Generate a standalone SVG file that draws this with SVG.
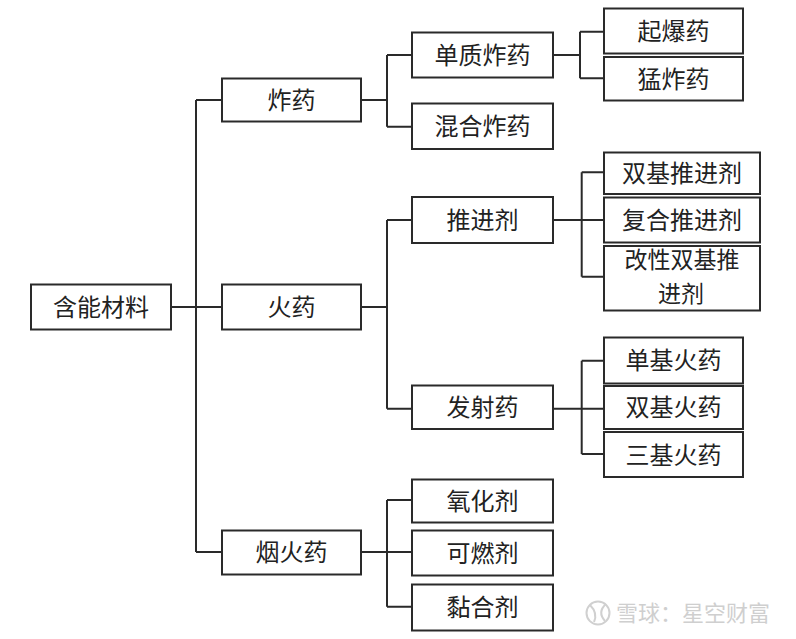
<svg xmlns="http://www.w3.org/2000/svg" width="796" height="639" viewBox="0 0 796 639">
<style>
.box{fill:#fff;stroke:#2a2a2a;stroke-width:2}
.lbl{font-family:"Noto Sans CJK SC",sans-serif;font-size:24px;fill:#222;text-anchor:middle}
.con{fill:none;stroke:#2a2a2a;stroke-width:2}
.wm{font-family:"Noto Sans CJK SC",sans-serif;font-size:22px;fill:#cfcfcf}
</style>
<rect width="796" height="639" fill="#fff"/>
<g id="connectors" class="con">
<path d="M171,307 H196 M196,100 V552 M196,100 H222 M196,307 H222 M196,552 H222"/>
<path d="M361,100 H387 M387,55 V126.7 M387,55 H412 M387,126.7 H412"/>
<path d="M553,55 H580 M580,31.7 V78.3 M580,31.7 H604 M580,78.3 H604"/>
<path d="M361,307 H387 M387,220 V408.7 M387,220 H412 M387,408.7 H412"/>
<path d="M553,220 H604 M581.7,172.3 V276.7 M581.7,172.3 H604 M581.7,276.7 H604"/>
<path d="M553,408.7 H604 M581.7,360.7 V454 M581.7,360.7 H604 M581.7,454 H604"/>
<path d="M361,552 H412 M387,500 V606.7 M387,500 H412 M387,606.7 H412"/>
</g>
<g id="n-root"><rect class="box" x="31" y="284.5" width="140" height="45"/><text class="lbl" x="101" y="316">含能材料</text></g>
<g id="n-zhayao"><rect class="box" x="222" y="78.5" width="139" height="43"/><text class="lbl" x="291.5" y="109">炸药</text></g>
<g id="n-huoyao"><rect class="box" x="222" y="284.5" width="139" height="45"/><text class="lbl" x="291.5" y="316">火药</text></g>
<g id="n-yanhuoyao"><rect class="box" x="222" y="530.5" width="139" height="44"/><text class="lbl" x="291.5" y="561">烟火药</text></g>
<g id="n-danzhi"><rect class="box" x="412" y="32.5" width="141" height="45"/><text class="lbl" x="482.5" y="64">单质炸药</text></g>
<g id="n-hunhe"><rect class="box" x="412" y="103.5" width="141" height="45.5"/><text class="lbl" x="482.5" y="135">混合炸药</text></g>
<g id="n-tuijinji"><rect class="box" x="412" y="197" width="141" height="46"/><text class="lbl" x="482.5" y="229">推进剂</text></g>
<g id="n-fasheyao"><rect class="box" x="412" y="385.5" width="141" height="43.5"/><text class="lbl" x="482.5" y="416">发射药</text></g>
<g id="n-yanghuaji"><rect class="box" x="412" y="479.5" width="141" height="43"/><text class="lbl" x="482.5" y="510">氧化剂</text></g>
<g id="n-keranji"><rect class="box" x="412" y="530.5" width="141" height="45"/><text class="lbl" x="482.5" y="562">可燃剂</text></g>
<g id="n-nianheji"><rect class="box" x="412" y="584.5" width="141" height="46"/><text class="lbl" x="482.5" y="616">黏合剂</text></g>
<g id="n-qibao"><rect class="box" x="604" y="8.5" width="139" height="45"/><text class="lbl" x="673.5" y="40">起爆药</text></g>
<g id="n-mengzha"><rect class="box" x="604" y="57" width="139" height="43.5"/><text class="lbl" x="673.5" y="88">猛炸药</text></g>
<g id="n-shuangji-tj"><rect class="box" x="604" y="152.5" width="156" height="41.5"/><text class="lbl" x="682" y="182">双基推进剂</text></g>
<g id="n-fuhe-tj"><rect class="box" x="604" y="197.5" width="156" height="45"/><text class="lbl" x="682" y="229">复合推进剂</text></g>
<g id="n-gaixing-tj"><rect class="box" x="604" y="246" width="156" height="64.5"/><text class="lbl" style="font-size:23px"><tspan x="682" y="268">改性双基推</tspan><tspan x="681" y="302">进剂</tspan></text></g>
<g id="n-danji-hy"><rect class="box" x="604" y="337.5" width="139" height="46"/><text class="lbl" x="673.5" y="369">单基火药</text></g>
<g id="n-shuangji-hy"><rect class="box" x="604" y="386" width="139" height="43"/><text class="lbl" x="673.5" y="416">双基火药</text></g>
<g id="n-sanji-hy"><rect class="box" x="604" y="432" width="139" height="45"/><text class="lbl" x="673.5" y="463.5">三基火药</text></g>
<g id="watermark">
<circle cx="598" cy="613" r="11.5" fill="none" stroke="#d0d0d0" stroke-width="2"/>
<path d="M590,605 Q598,613 594,622 M606,604 Q597,612 605,621" fill="none" stroke="#d0d0d0" stroke-width="2"/>
<text class="wm" x="616" y="621">雪球：星空财富</text>
</g>
</svg>
